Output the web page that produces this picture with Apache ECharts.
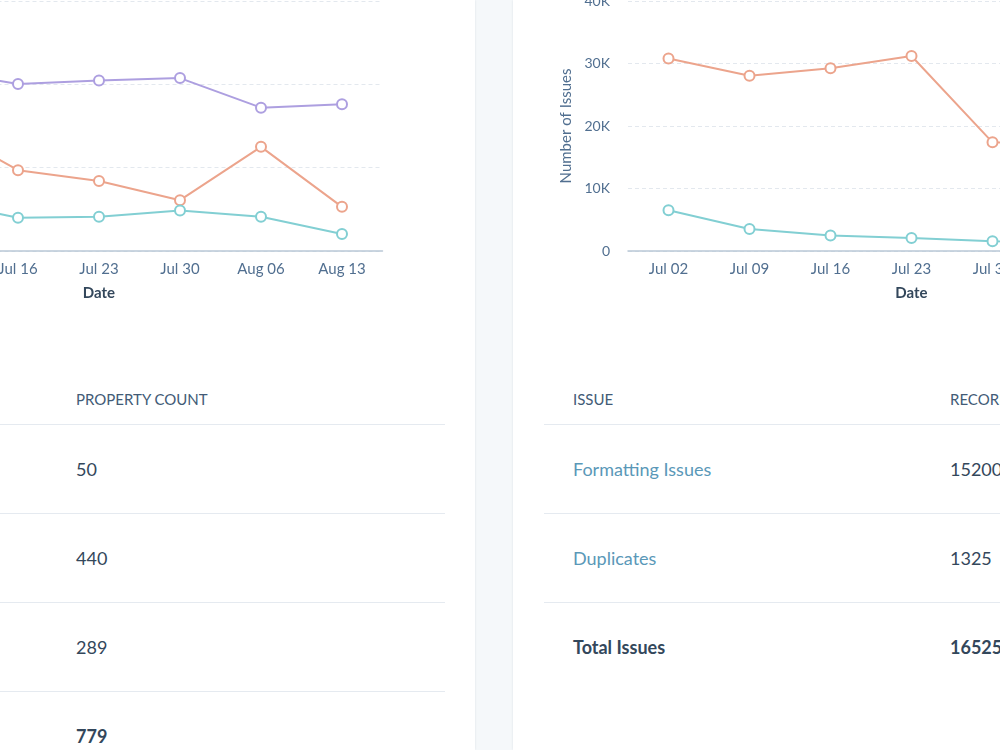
<!DOCTYPE html>
<html>
<head>
<meta charset="utf-8">
<script src="https://cdn.jsdelivr.net/npm/echarts@6/dist/echarts.min.js"></script>
<style>
  html, body { margin: 0; padding: 0; }
  body {
    width: 1000px; height: 750px; overflow: hidden; position: relative;
    background: #f5f8fa; font-family: Lato, "Noto Sans", sans-serif;
  }
  .panel {
    position: absolute; top: 0; height: 750px; background: #fff; overflow: hidden;
    box-shadow: 0 0 2px rgba(45, 62, 80, 0.12);
  }
  #leftPanel { left: -20px; width: 495px; }
  #rightPanel { left: 513px; width: 520px; }
  .chart { position: absolute; top: 0; height: 320px; }
  #leftChart { left: -230px; width: 650px; }
  #rightChart { left: 0; width: 800px; }
  table.grid {
    position: absolute; top: 374px; border-collapse: collapse; table-layout: fixed;
    color: #33475b;
  }
  table.grid th {
    text-align: left; font-weight: 400; font-size: 15px; height: 50px;
    padding: 0 0 0 29px; color: #425b76; border-bottom: 1px solid #e5eaf0;
  }
  table.grid td {
    font-size: 18px; height: 88px; padding: 0 0 0 29px; border-bottom: 1px solid #e5eaf0;
  }
  table.grid tr.total td { font-weight: 700; border-bottom: none; }
  table.grid a { color: #5a98b8; text-decoration: none; }
  #leftTable { left: -310px; width: 775px; }
  #rightTable { left: 31px; width: 640px; }
</style>
</head>
<body>
<div class="panel" id="leftPanel">
  <div class="chart" id="leftChart"></div>
  <table class="grid" id="leftTable"><colgroup><col style="width:377px"><col></colgroup></table>
</div>
<div class="panel" id="rightPanel">
  <div class="chart" id="rightChart"></div>
  <table class="grid" id="rightTable"><colgroup><col style="width:377px"><col></colgroup></table>
</div>
<script>
const dates = ['Jul 02', 'Jul 09', 'Jul 16', 'Jul 23', 'Jul 30', 'Aug 06', 'Aug 13']

// left chart (three property series)
const leftPurple = [430, 434, 401, 409, 415, 344, 352]
const leftOrange = [278, 302, 194, 168, 122, 250, 106]
const leftTeal = [110, 120, 80, 82, 97, 82, 41]

// right chart (issues over time)
const formattingIssues = [30800, 28050, 29230, 31200, 17390, 17000, 15200]
const duplicates = [6510, 3520, 2480, 2080, 1550, 1400, 1325]

// tables
const propertyRows = ['50', '440', '289']
const propertyTotal = '779'
const issueNames = ['Formatting Issues', 'Duplicates']
const issueRecords = ['15200', '1325']
const issueTotal = '16525'

const PURPLE = '#ad9fe0'
const ORANGE = '#eca48c'
const TEAL = '#82cfd3'

function lineSeries(name, data, color) {
  return {
    name,
    type: 'line',
    data,
    symbol: 'circle',
    symbolSize: 10,
    showAllSymbol: true,
    lineStyle: { color, width: 2 },
    itemStyle: { color: '#fff', borderColor: color, borderWidth: 2 },
    emphasis: { disabled: true },
    animation: false
  }
}

function baseOption(gridLeft, yMax, yInterval, yName, series) {
  return {
    animation: false,
    grid: { left: gridLeft, top: 1, width: 567, height: 250, containLabel: false, outerBoundsMode: 'none' },
    xAxis: {
      type: 'category',
      data: dates,
      boundaryGap: true,
      name: 'Date',
      nameLocation: 'middle',
      nameGap: 35,
      nameTextStyle: { color: '#33475b', fontSize: 15, fontWeight: 'bold', fontFamily: 'Lato' },
      axisLine: { lineStyle: { color: '#b9c7d6', width: 1.5 } },
      axisTick: { show: false },
      axisLabel: { color: '#516f90', fontSize: 15, margin: 11, fontFamily: 'Lato' }
    },
    yAxis: {
      type: 'value',
      min: 0,
      max: yMax,
      interval: yInterval,
      name: yName,
      nameLocation: 'middle',
      nameGap: 52,
      nameTextStyle: { color: '#516f90', fontSize: 15, fontFamily: 'Lato' },
      axisLine: { show: false },
      axisTick: { show: false },
      axisLabel: {
        color: '#516f90', fontSize: 14, margin: 18, fontFamily: 'Lato',
        formatter: v => v === 0 ? '0' : (v >= 1000 ? v / 1000 + 'K' : v)
      },
      splitLine: { lineStyle: { color: '#e3e8ee', type: [4, 3] } }
    },
    series
  }
}

const leftChart = echarts.init(document.getElementById('leftChart'), null, { renderer: 'canvas' })
leftChart.setOption(baseOption(65.5, 600, 200, 'Properties', [
  lineSeries('Purple', leftPurple, PURPLE),
  lineSeries('Orange', leftOrange, ORANGE),
  lineSeries('Teal', leftTeal, TEAL)
]))

const rightChart = echarts.init(document.getElementById('rightChart'), null, { renderer: 'canvas' })
rightChart.setOption(baseOption(115, 40000, 10000, 'Number of Issues', [
  lineSeries('Formatting Issues', formattingIssues, ORANGE),
  lineSeries('Duplicates', duplicates, TEAL)
]))

// tables
const lt = document.getElementById('leftTable')
let html = '<tr><th></th><th>PROPERTY COUNT</th></tr>'
propertyRows.forEach(v => { html += `<tr><td></td><td>${v}</td></tr>` })
html += `<tr class="total"><td></td><td>${propertyTotal}</td></tr>`
lt.insertAdjacentHTML('beforeend', html)

const rt = document.getElementById('rightTable')
html = '<tr><th>ISSUE</th><th>RECORDS</th></tr>'
issueNames.forEach((n, i) => { html += `<tr><td><a>${n}</a></td><td>${issueRecords[i]}</td></tr>` })
html += `<tr class="total"><td>Total Issues</td><td>${issueTotal}</td></tr>`
rt.insertAdjacentHTML('beforeend', html)
</script>
</body>
</html>
